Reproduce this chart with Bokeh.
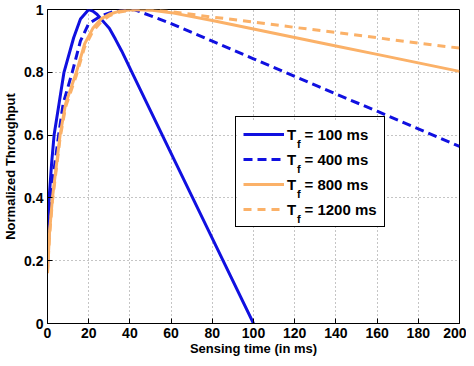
from bokeh.plotting import figure
from bokeh.models import Legend, LegendItem, FixedTicker, Range1d, BoxAnnotation
from bokeh.core.properties import value
from bokeh.embed import file_html
from bokeh.resources import INLINE

# ---- data ----
x_ticks = [0, 20, 40, 60, 80, 100, 120, 140, 160, 180, 200]
y_ticks = [0, 0.2, 0.4, 0.6, 0.8, 1.0]

x_100 = [0, 0.8, 2, 3.2, 5.6, 8, 12.7, 16, 20, 22, 24, 26, 28, 30, 33, 36, 41, 60, 80, 100]
y_100 = [0.24, 0.40, 0.51, 0.60, 0.70, 0.80, 0.91, 0.97, 1.0, 0.995, 0.985, 0.97, 0.955, 0.94,
         0.905, 0.868, 0.80, 0.542, 0.271, 0.0]

x_400 = [0, 1, 2.4, 5.4, 7.6, 12, 16, 20, 26, 32, 42, 60, 80, 100, 120, 140, 160, 180, 200]
y_400 = [0.18, 0.33, 0.45, 0.60, 0.70, 0.80, 0.90, 0.955, 0.98, 0.993, 1.0, 0.955, 0.899, 0.843,
         0.787, 0.731, 0.676, 0.620, 0.564]

x_800 = [0, 1, 2.4, 6.1, 8.8, 14, 18, 22, 26, 30, 35, 42, 50, 60, 80, 100, 120, 140, 160, 180, 200]
y_800 = [0.165, 0.29, 0.40, 0.60, 0.70, 0.80, 0.89, 0.94, 0.97, 0.985, 0.995, 1.0, 0.998, 0.99,
         0.965, 0.938, 0.911, 0.884, 0.857, 0.830, 0.803]

x_1200 = [0, 1, 2.4, 6.1, 8.8, 14, 18, 22, 26, 30, 35, 42, 50, 60, 80, 100, 120, 140, 160, 180, 200]
y_1200 = [0.16, 0.28, 0.39, 0.59, 0.69, 0.79, 0.88, 0.93, 0.96, 0.98, 0.992, 0.999, 1.0, 0.993,
          0.976, 0.960, 0.943, 0.927, 0.910, 0.893, 0.877]

labels = ["100 ms", "400 ms", "800 ms", "1200 ms"]

BLUE = "#1010e0"
ORANGE = "#fbb168"
FONT = "Liberation Sans"

p = figure(width=466, height=358, x_range=Range1d(0, 200), y_range=Range1d(0, 1),
           output_backend="svg", toolbar_location=None,
           min_border_left=0, min_border_right=7, min_border_top=9, min_border_bottom=0)

p.outline_line_color = "black"
p.outline_line_alpha = 1.0
p.outline_line_width = 1

for ax, ticks in ((p.xaxis, x_ticks), (p.yaxis, y_ticks)):
    ax.ticker = FixedTicker(ticks=ticks)
    ax.major_label_text_font = FONT
    ax.major_label_text_font_style = "bold"
    ax.major_label_text_font_size = "14px"
    ax.major_label_text_color = "black"
    ax.axis_label_text_font = FONT
    ax.axis_label_text_font_style = "bold"
    ax.axis_label_text_font_size = "13px"
    ax.axis_label_text_color = "black"
    ax.major_tick_in = 5
    ax.major_tick_out = 0
    ax.minor_tick_line_color = None
    ax.axis_line_color = "black"
    ax.major_tick_line_color = "black"

p.xaxis.axis_label = "Sensing time (in ms)"
p.yaxis.axis_label = "Normalized Throughput"
p.xaxis.major_label_standoff = 4
p.xaxis.axis_label_standoff = 0
p.yaxis.major_label_standoff = 4
p.yaxis.axis_label_standoff = 3
p.yaxis.major_label_overrides = {0: "0", 1: "1"}

p.xgrid.ticker = FixedTicker(ticks=x_ticks)
p.ygrid.ticker = FixedTicker(ticks=y_ticks)
for g in (p.xgrid, p.ygrid):
    g.grid_line_color = "#8a8a8a"
    g.grid_line_dash = "1 3"
    g.grid_line_width = 1

# white backing of the legend box (covers the grid), legend itself is transparent
p.add_layout(BoxAnnotation(left=92.0, right=164.0, bottom=0.31, top=0.648, level="underlay",
                           fill_color="white", fill_alpha=1, line_color=None))

r1 = p.line(x_100, y_100, line_color=BLUE, line_width=3)
r2 = p.line(x_400, y_400, line_color=BLUE, line_width=3, line_dash="9 5")
r3 = p.line(x_800, y_800, line_color=ORANGE, line_width=3)
r4 = p.line(x_1200, y_1200, line_color=ORANGE, line_width=3, line_dash="8 6")

items = [LegendItem(label="T\u00a0\u00a0= " + lab, renderers=[r])
         for lab, r in zip(labels, [r1, r2, r3, r4])]
legend = Legend(items=items, location=(188, 96),
                label_text_font=FONT, label_text_font_style="bold",
                label_text_font_size="15px", label_text_color="black",
                glyph_width=41, glyph_height=20, label_height=20,
                spacing=5, padding=7, margin=0, label_standoff=3,
                border_line_color="black", border_line_width=1, border_line_alpha=1,
                background_fill_alpha=0)
p.add_layout(legend)

# subscript "f" of T_f in each legend row
sub_x = [122.0] * len(labels)
sub_y = [0.572 - i * 0.0799 for i in range(len(labels))]
p.text(x=sub_x, y=sub_y, text=["f"] * len(labels),
       text_font=value(FONT), text_font_style="bold", text_font_size="11px",
       text_align="center", text_baseline="middle", text_color="black")

open("out.html", "w").write(file_html(p, INLINE))
